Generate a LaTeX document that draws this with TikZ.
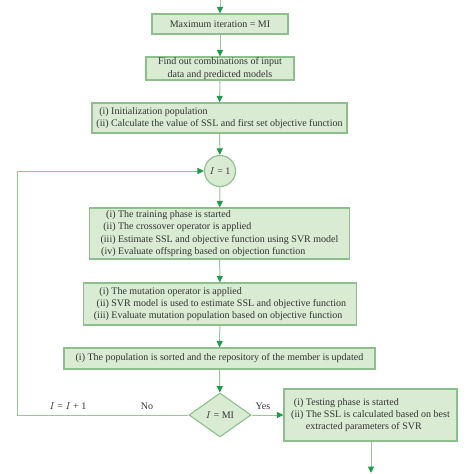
\documentclass[tikz,border=0pt]{standalone}
\usepackage{fontspec}
\setmainfont{Liberation Serif}
\usetikzlibrary{arrows.meta,shapes.geometric}
\definecolor{boxfill}{HTML}{D9EBD3}
\definecolor{boxline}{HTML}{8DBF8D}
\definecolor{lineg}{HTML}{96C896}
\definecolor{headg}{HTML}{1E9A4A}
\definecolor{txt}{HTML}{333333}
\tikzset{
  boxstyle/.style={draw=boxline, line width=1.1pt, fill=boxfill, rectangle, inner sep=0pt, text=txt, align=center,
    font=\fontsize{10}{12.2}\selectfont},
  conn/.style={draw=lineg, line width=1pt, -{Triangle[length=6.5pt,width=6pt,color=headg]}},
  lbl/.style={text=txt, font=\fontsize{10}{12}\selectfont, inner sep=0pt}
}
\newcommand{\tlist}[1]{\begin{tabular}{@{}r@{\ }l@{}}#1\end{tabular}}
\begin{document}
\begin{tikzpicture}[x=1pt,y=-1pt]
\useasboundingbox (0,0) rectangle (474,474);
\coordinate (top) at (220,0);
\node[boxstyle, minimum width=136pt, minimum height=20pt] (b1) at (220,24) {Maximum iteration = MI};
\node[boxstyle, minimum width=148pt, minimum height=23pt] (b2) at (220,68.5) {Find out combinations of input\\data and predicted models};
\node[boxstyle, minimum width=255pt, minimum height=30pt] (b3) at (219.5,118) {\tlist{(i) & Initialization population\\(ii) & Calculate the value of SSL and first set objective function}};
\node[draw=boxline, line width=1.1pt, fill=boxfill, circle, minimum size=31pt, inner sep=0pt, text=txt, font=\fontsize{10}{12}\selectfont] (c1) at (220,171) {$I$ = 1};
\node[boxstyle, minimum width=260pt, minimum height=51pt] (b4) at (219.5,233.5) {\tlist{(i) & The training phase is started\\(ii) & The crossover operator is applied\\(iii) & Estimate SSL and objective function using SVR model\\(iv) & Evaluate offspring based on objection function}};
\node[boxstyle, minimum width=273pt, minimum height=42pt] (b5) at (220,304) {\tlist{(i) & The mutation operator is applied\\(ii) & SVR model is used to estimate SSL and objective function\\(iii) & Evaluate mutation population based on objective function}};
\node[boxstyle, minimum width=311pt, minimum height=21pt] (b6) at (219.5,358.5) {(i) The population is sorted and the repository of the member is updated};
\node[draw=boxline, line width=1.1pt, fill=boxfill, diamond, aspect=1.4, minimum width=62pt, minimum height=44pt, inner sep=0pt, text=txt, font=\fontsize{10}{12}\selectfont] (d1) at (220,415) {$I$ = MI};
\node[boxstyle, minimum width=173pt, minimum height=52pt] (b7) at (370.5,415) {\tlist{(i) & Testing phase is started\\(ii) & The SSL is calculated based on best\\ & extracted parameters of SVR}};
\coordinate (bot) at (371,473);
\coordinate (lc1) at (17,415);
\coordinate (lc2) at (17,171);
\draw[conn] (top) -- (b1);
\draw[conn] (b1) -- (b2);
\draw[conn] (b2) -- (b3);
\draw[conn] (b3) -- (c1);
\draw[conn] (c1) -- (b4);
\draw[conn] (b4) -- (b5);
\draw[conn] (b5) -- (b6);
\draw[conn] (b6) -- (d1);
\draw[conn] (d1) -- (b7);
\draw[conn] (b7.south -| bot) -- (bot);
\draw[conn] (d1.west) -- (lc1) -- (lc2) -- (c1.west);
\node[lbl] (l1) at (68,406) {$I$ = $I$ + 1};
\node[lbl] (l2) at (147,406) {No};
\node[lbl] (l3) at (263,406) {Yes};
\end{tikzpicture}
\end{document}
